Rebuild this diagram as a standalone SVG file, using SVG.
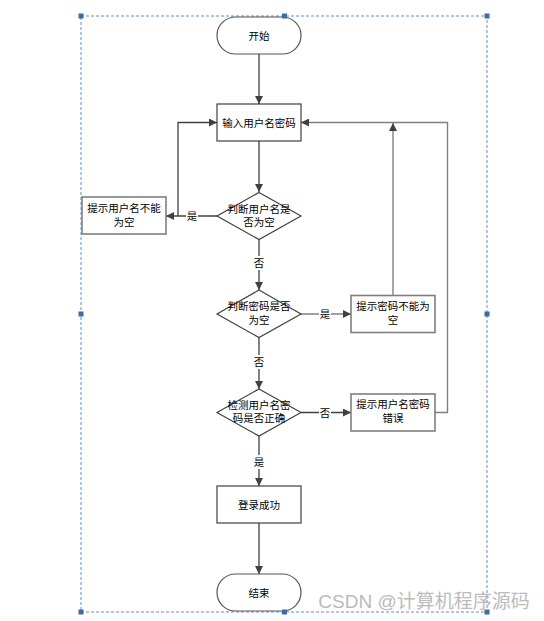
<svg xmlns="http://www.w3.org/2000/svg" width="544" height="621" viewBox="0 0 544 621">
<style>
text{font-family:"Liberation Sans","Noto Sans CJK SC",sans-serif;font-size:10.5px;fill:#000;text-anchor:middle;dominant-baseline:central}
.n{fill:#fff;stroke:#404040;stroke-width:1.2}
.g{fill:#fff;stroke:#7f7f7f;stroke-width:1.6}
.t{fill:#fff;stroke:#555;stroke-width:1.2}
.c{fill:none;stroke:#404040;stroke-width:1.3}
.cg{fill:none;stroke:#808080;stroke-width:1.4}
.lb{fill:#fff}
.h{fill:#3d6ba5}
</style>
<defs>
<marker id="a" viewBox="0 0 10 10" refX="10" refY="5" markerWidth="8" markerHeight="8" markerUnits="userSpaceOnUse" orient="auto">
<path d="M0,0 L10,5 L0,10 z" fill="#404040"/>
</marker>
</defs>
<rect x="0" y="0" width="544" height="621" fill="#fff"/>
<rect x="81" y="16" width="406" height="596" fill="none" stroke="#5b8fd6" stroke-width="1" stroke-dasharray="3,2"/>
<g id="connectors">
<line class="c" x1="259" y1="54" x2="259" y2="104" marker-end="url(#a)"/>
<line class="c" x1="259" y1="141" x2="259" y2="192" marker-end="url(#a)"/>
<line class="c" x1="217" y1="216" x2="166" y2="216" marker-end="url(#a)"/>
<polyline class="c" points="178,216 178,122.5 217,122.5" marker-end="url(#a)"/>
<line class="c" x1="259" y1="240" x2="259" y2="290" marker-end="url(#a)"/>
<line class="cg" x1="301" y1="314" x2="351" y2="314" marker-end="url(#a)"/>
<line class="cg" x1="393" y1="295" x2="393" y2="123" marker-end="url(#a)"/>
<line class="c" x1="259" y1="337.5" x2="259" y2="389" marker-end="url(#a)"/>
<line class="c" x1="301" y1="412.5" x2="351" y2="412.5" marker-end="url(#a)"/>
<polyline class="cg" points="435,412.5 447.5,412.5 447.5,122.5 301,122.5" marker-end="url(#a)"/>
<line class="c" x1="259" y1="436" x2="259" y2="486" marker-end="url(#a)"/>
<line class="c" x1="259" y1="523" x2="259" y2="574" marker-end="url(#a)"/>
<rect class="lb" x="186" y="209" width="12" height="14"/>
<text x="192" y="216">是</text>
<rect class="lb" x="253" y="256" width="12" height="14"/>
<text x="259" y="263">否</text>
<rect class="lb" x="319" y="307" width="12" height="14"/>
<text x="325" y="314">是</text>
<rect class="lb" x="253" y="355" width="12" height="14"/>
<text x="259" y="362">否</text>
<rect class="lb" x="319" y="405.5" width="12" height="14"/>
<text x="325" y="412.5">否</text>
<rect class="lb" x="253" y="455" width="12" height="14"/>
<text x="259" y="462">是</text>
</g>
<g id="start">
<rect class="t" x="217" y="17" width="84" height="37" rx="18.5"/>
<text x="259" y="35.5">开始</text>
</g>
<g id="input">
<rect class="n" x="217" y="104" width="84" height="37"/>
<text x="259" y="122.5">输入用户名密码</text>
</g>
<g id="check-user">
<polygon class="n" points="259,192.5 301,216 259,239.5 217,216"/>
<text x="259" y="208.5">判断用户名是</text>
<text x="259" y="221.7">否为空</text>
</g>
<g id="msg-user">
<rect class="g" x="82" y="197" width="84" height="37"/>
<text x="124" y="208">提示用户名不能</text>
<text x="124" y="221.5">为空</text>
</g>
<g id="check-pwd">
<polygon class="n" points="259,290 301,314 259,337.5 217,314"/>
<text x="259" y="306">判断密码是否</text>
<text x="259" y="320">为空</text>
</g>
<g id="msg-pwd">
<rect class="g" x="351" y="295.5" width="84" height="37"/>
<text x="393" y="306">提示密码不能为</text>
<text x="393" y="320">空</text>
</g>
<g id="check-both">
<polygon class="n" points="259,389 301,412.5 259,436 217,412.5"/>
<text x="259" y="404.5">检测用户名密</text>
<text x="259" y="417.5">码是否正确</text>
</g>
<g id="msg-err">
<rect class="g" x="351" y="394" width="84" height="37"/>
<text x="393" y="404.3">提示用户名密码</text>
<text x="393" y="417.7">错误</text>
</g>
<g id="success">
<rect class="n" x="217" y="486" width="84" height="37"/>
<text x="259" y="504.5">登录成功</text>
</g>
<g id="end">
<rect class="t" x="217" y="574" width="84" height="37" rx="18.5"/>
<text x="259" y="592.5">结束</text>
</g>
<g id="handles">
<rect class="h" x="78.5" y="13.5" width="5" height="5"/>
<rect class="h" x="282" y="13.5" width="5" height="5"/>
<rect class="h" x="484.5" y="13.5" width="5" height="5"/>
<rect class="h" x="78.5" y="311.5" width="5" height="5"/>
<rect class="h" x="484.5" y="311.5" width="5" height="5"/>
<rect class="h" x="78.5" y="609.5" width="5" height="5"/>
<rect class="h" x="282" y="609.5" width="5" height="5"/>
<rect class="h" x="484.5" y="609.5" width="5" height="5"/>
</g>
<text x="424" y="601" style="font-size:19px;fill:#b4b4b4;opacity:0.9">CSDN @计算机程序源码</text>
</svg>
